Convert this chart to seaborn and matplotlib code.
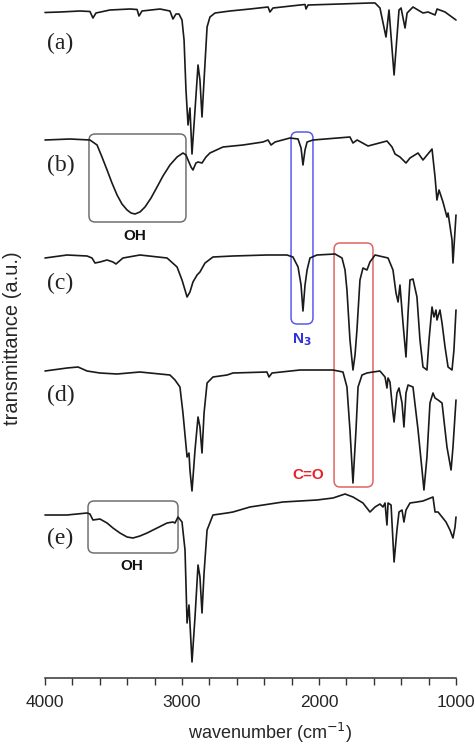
import numpy as np
import pandas as pd
import seaborn as sns
import matplotlib.pyplot as plt
from matplotlib.patches import FancyBboxPatch
from matplotlib.ticker import MultipleLocator

# spectra, transmittance relative to each baseline (a.u.)
samples = ['(a)', '(b)', '(c)', '(d)', '(e)']
offsets = [666, 538, 422, 307, 164]

wn_a = [4000, 3890, 3745, 3672, 3650, 3628, 3526, 3380, 3328, 3314, 3292, 3161, 3088, 3066, 3044,
        3022, 3000, 2985, 2971, 2956, 2942, 2927, 2905, 2883, 2869, 2854, 2839, 2817, 2796, 2759,
        2650, 2504, 2372, 2358, 2336, 2139, 2102, 2095, 2080, 1847, 1628, 1591, 1555, 1511, 1489,
        1452, 1416, 1401, 1372, 1357, 1314, 1241, 1204, 1153, 1138, 1080, 1000]
t_a = [-0.5, 0, 1, 0.5, -6, -1, 2, 3, 2.5, -4, 1, 3, 1, -7, -2,
       -2, -8, -28, -78, -113, -96, -142, -98, -53, -68, -105, -68, -15, -5, -1,
       1, 3, 5, 0, 4, 7, 7.5, 3, 7, 8, 9, 9, 4, -25, 2,
       -63, 2, 4, -16, -1, 5, -1, 0, -3, 3, 0, -8]

wn_b = [4000, 3818, 3672, 3620, 3584, 3547, 3511, 3474, 3438, 3401, 3372, 3343, 3307, 3270, 3226,
        3182, 3139, 3088, 3036, 2993, 2971, 2956, 2934, 2920, 2898, 2883, 2854, 2825, 2796, 2701,
        2555, 2409, 2372, 2350, 2321, 2212, 2153, 2131, 2117, 2102, 2087, 2044, 1774, 1752, 1722,
        1642, 1504, 1467, 1445, 1409, 1365, 1336, 1277, 1241, 1175, 1153, 1139, 1124, 1095, 1066,
        1058, 1029, 1022, 1000]
t_b = [0, 1, 0, -5, -17, -30, -43, -55, -64, -70, -73, -74, -72, -67, -58,
       -47, -36, -25, -17, -13, -15, -20, -27, -30, -23, -22, -23, -17, -13, -7,
       -5, -2, 0, -5, -2, 2, 1, -8, -25, -10, -2, 0, 3, -3, 0,
       -6, -1, -7, -14, -17, -23, -18, -13, -20, -9, -37, -60, -50, -62, -77,
       -73, -100, -123, -75]

wn_c = [4000, 3839, 3693, 3657, 3635, 3599, 3547, 3504, 3482, 3431, 3307, 3109, 3036, 3000, 2978,
        2963, 2942, 2920, 2890, 2869, 2832, 2774, 2628, 2380, 2234, 2190, 2153, 2131, 2117, 2102,
        2087, 2066, 2015, 1883, 1832, 1810, 1796, 1774, 1752, 1737, 1723, 1701, 1679, 1650, 1628,
        1591, 1496, 1460, 1438, 1423, 1409, 1387, 1365, 1350, 1336, 1314, 1285, 1263, 1241, 1212,
        1197, 1175, 1161, 1146, 1139, 1117, 1102, 1080, 1058, 1029, 1015, 1000]
t_c = [-2, 1, 0, -2, -7, -6, -4, -6, -8, -2, 1, -2, -11, -24, -34,
       -41, -36, -26, -19, -16, -7, -1, 0, 1, 1, -1, -11, -29, -55, -29,
       -14, -2, 1, 2, -2, -14, -34, -84, -114, -99, -74, -24, -12, -14, -6,
       1, -2, -14, -37, -46, -29, -67, -101, -57, -24, -23, -41, -84, -111, -114,
       -84, -51, -61, -54, -64, -54, -67, -91, -111, -114, -94, -54]

wn_d = [4000, 3839, 3759, 3693, 3599, 3474, 3307, 3088, 3051, 3015, 2993, 2963, 2949, 2942, 2927,
        2905, 2883, 2869, 2854, 2839, 2817, 2774, 2671, 2628, 2380, 2365, 2343, 2139, 1898, 1825,
        1796, 1774, 1752, 1730, 1715, 1686, 1650, 1606, 1555, 1518, 1504, 1496, 1482, 1460, 1452,
        1431, 1416, 1394, 1380, 1365, 1350, 1314, 1277, 1248, 1234, 1212, 1190, 1168, 1153, 1131,
        1102, 1066, 1036, 1022, 1000]
t_d = [0, 3, 4, 0, -2, -3, -1, -4, -9, -16, -42, -86, -82, -99, -120,
       -79, -46, -56, -82, -42, -12, -6, -4, -2, -1, -6, -2, 1, 1, -1,
       -16, -59, -112, -59, -16, -4, -2, -1, 0, -6, -17, -7, -11, -42, -51,
       -22, -17, -32, -56, -22, -14, -16, -59, -99, -119, -86, -32, -22, -27, -29,
       -32, -76, -99, -76, -29]

wn_e = [4000, 3839, 3693, 3672, 3650, 3599, 3547, 3504, 3453, 3401, 3358, 3307, 3255, 3182, 3109,
        3066, 3051, 3029, 3000, 2978, 2963, 2949, 2942, 2927, 2905, 2883, 2869, 2854, 2839, 2817,
        2774, 2671, 2628, 2504, 2263, 2015, 1898, 1810, 1752, 1679, 1628, 1591, 1555, 1533, 1518,
        1504, 1496, 1474, 1452, 1431, 1416, 1394, 1380, 1365, 1336, 1285, 1241, 1204, 1168, 1153,
        1131, 1102, 1073, 1044, 1022, 1007, 1000]
t_e = [-1, -1, 1, 0, -6, -5, -9, -14, -19, -23, -24, -22, -19, -14, -9,
       -8, -9, -3, -8, -36, -109, -91, -109, -148, -103, -51, -63, -99, -59, -16,
       -1, 1, 2, 7, 12, 14, 16, 20, 17, 11, 2, 7, 10, 7, 11,
       -11, 11, 9, -48, -16, 2, 4, -8, 4, 11, 12, 13, 15, 17, 2,
       2, -3, -8, -16, -24, -13, -3]

frames = []
for name, off, wn, t in zip(samples, offsets,
                            [wn_a, wn_b, wn_c, wn_d, wn_e],
                            [t_a, t_b, t_c, t_d, t_e]):
    frames.append(pd.DataFrame({'wavenumber': wn,
                                'transmittance': np.array(t) + off,
                                'sample': name}))
df = pd.concat(frames, ignore_index=True)

sns.set_style('ticks')
plt.rcParams['font.family'] = ['Liberation Sans', 'DejaVu Sans']

fig = plt.figure(figsize=(4.74, 7.45), dpi=100)
ax = fig.add_axes([45/474, 67/745, 411/474, 678/745])

sns.lineplot(data=df, x='wavenumber', y='transmittance', units='sample', estimator=None,
             sort=False, color='#1a1a1a', lw=1.2, legend=False, ax=ax)
for line in ax.lines:
    line.set_clip_on(False)

ax.set_xlim(4000, 1000)
ax.set_ylim(0, 678)
ax.set_yticks([])
ax.xaxis.set_major_locator(MultipleLocator(1000))
ax.xaxis.set_minor_locator(MultipleLocator(200))
ax.tick_params(axis='x', which='both', direction='out', length=5, width=1, color='#333333')
ax.tick_params(axis='x', which='major', pad=7, labelsize=12.5)
sns.despine(ax=ax, left=True)
ax.spines['bottom'].set_color('#333333')
ax.spines['bottom'].set_linewidth(1.1)

ax.set_xlabel('wavenumber (cm$^{-1}$)', fontsize=13)
ax.xaxis.set_label_coords(0.547, -0.064)
ax.set_ylabel('transmittance (a.u.)', fontsize=14.5)
ax.yaxis.set_label_coords(-0.056, 0.501)

# sample labels
for name, y in zip(samples, [635, 513, 395, 283, 140]):
    ax.text(3985, y, name, family=['Liberation Serif', 'DejaVu Serif'], fontsize=17,
            ha='left', va='center', color='#222222')

# highlight boxes
def box(x0, x1, y0, y1, color):
    p = FancyBboxPatch((x1, y0), x0 - x1, y1 - y0,
                       boxstyle='round,pad=0,rounding_size=45', mutation_aspect=1/7.3,
                       fill=False, ec=color, lw=1.1, clip_on=False)
    ax.add_patch(p)

box(3679, 2971, 456, 544, '#707070')
box(2204, 2044, 354, 546, '#5a5aee')
box(1890, 1606, 191, 435, '#e06464')
box(3686, 3029, 125, 177, '#707070')

ax.text(3343, 442, 'OH', fontsize=11, fontweight='bold', ha='center', va='center', color='#111111')
ax.text(3365, 112, 'OH', fontsize=11, fontweight='bold', ha='center', va='center', color='#111111')
ax.text(2124, 338, 'N$_\\mathbf{3}$', fontsize=11, fontweight='bold', ha='center', va='center', color='#3030e0')
ax.text(2080, 203, 'C=O', fontsize=11, fontweight='bold', ha='center', va='center', color='#e8202a')

fig.savefig('out.png', dpi=100)
